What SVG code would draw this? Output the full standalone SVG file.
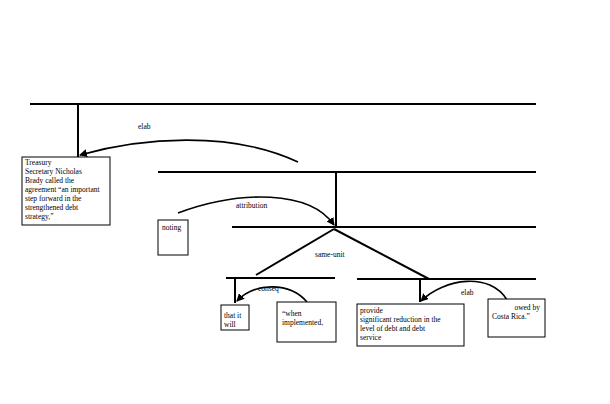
<svg xmlns="http://www.w3.org/2000/svg" width="610" height="404" viewBox="0 0 610 404">
<style>
.l{stroke:#000;stroke-width:2;fill:none}
.a{stroke:#000;stroke-width:1.6;fill:none;marker-end:url(#ah)}
.b{fill:#fff;stroke:#000;stroke-width:1}
text{font-family:"Liberation Serif",serif;font-size:7.5px;fill:#000}
</style>
<defs><marker id="ah" markerWidth="8" markerHeight="8" refX="7" refY="4" orient="auto" markerUnits="userSpaceOnUse"><path d="M0,0L8,4L0,8z"/></marker></defs>
<rect width="610" height="404" fill="#fff"/>
<g id="connectors">
<line class="l" x1="30" y1="104" x2="536" y2="104"/>
<line class="l" x1="78" y1="104" x2="78" y2="157"/>
<line class="l" x1="158" y1="172" x2="536" y2="172"/>
<line class="l" x1="336" y1="172" x2="336" y2="227"/>
<line class="l" x1="232" y1="227" x2="536" y2="227"/>
<line class="l" x1="334" y1="229" x2="256" y2="275"/>
<line class="l" x1="334" y1="229" x2="429" y2="279"/>
<line class="l" x1="226" y1="278" x2="335" y2="278"/>
<line class="l" x1="235" y1="278" x2="235" y2="303"/>
<line class="l" x1="357" y1="279" x2="536" y2="279"/>
<line class="l" x1="420" y1="279" x2="420" y2="302"/>
<path class="a" d="M298,162 C230,130 140,138 80,155"/>
<path class="a" d="M178,213 C240,190 310,190 334,225"/>
<path class="a" d="M307,302 C290,282 255,282 237,301"/>
<path class="a" d="M507,300 C490,272 445,278 421,301"/>
<text x="138" y="129">elab</text>
<text x="236" y="208">attribution</text>
<text x="315" y="257">same-unit</text>
<text x="258" y="291">conseq</text>
<text x="461" y="295">elab</text>
</g>
<g id="n1"><rect class="b" x="22" y="157" width="88" height="68"/>
<text x="25" y="165">Treasury</text><text x="25" y="174">Secretary Nicholas</text><text x="25" y="183">Brady called the</text><text x="25" y="192">agreement “an important</text><text x="25" y="201">step forward in the</text><text x="25" y="210">strengthened debt</text><text x="25" y="219">strategy,”</text></g>
<g id="n2"><rect class="b" x="158" y="220" width="30" height="35"/><text x="162" y="230">noting</text></g>
<g id="n3"><rect class="b" x="221" y="305" width="28" height="25"/><text x="224" y="318">that it</text><text x="224" y="327">will</text></g>
<g id="n4"><rect class="b" x="277" y="302" width="59" height="40"/><text x="282" y="316">“when</text><text x="282" y="325">implemented,</text></g>
<g id="n5"><rect class="b" x="357" y="304" width="107" height="42"/><text x="360" y="313">provide</text><text x="360" y="322">significant reduction in the</text><text x="360" y="331">level of debt and debt</text><text x="360" y="340">service</text></g>
<g id="n6"><rect class="b" x="488" y="299" width="57" height="38"/><text x="540" y="310" text-anchor="end">owed by</text><text x="492" y="319">Costa Rica.”</text></g>
</svg>
